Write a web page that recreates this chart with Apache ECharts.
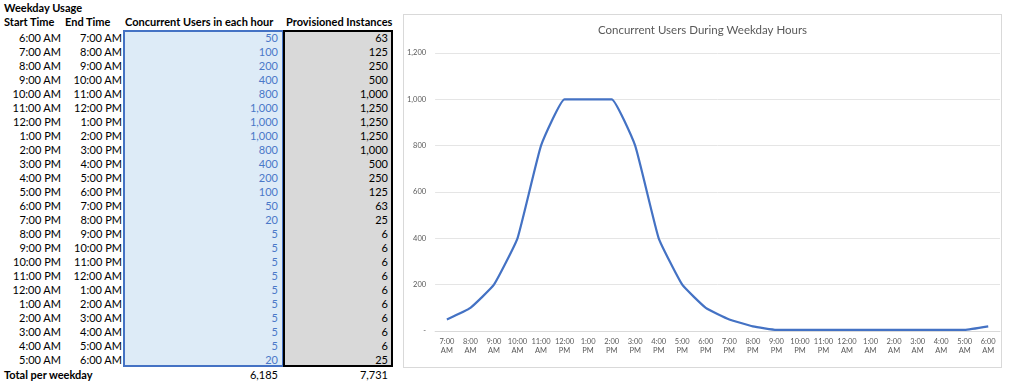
<!DOCTYPE html>
<html>
<head>
<meta charset="utf-8">
<script src="https://cdn.jsdelivr.net/npm/echarts@6/dist/echarts.min.js"></script>
<style>
  html, body { margin: 0; padding: 0; background: #fff; width: 1010px; height: 386px; overflow: hidden; }
  body { position: relative; font-family: Lato, "Liberation Sans", sans-serif; font-size: 11px; color: #000; }
  .t { position: absolute; white-space: nowrap; height: 14px; line-height: 14px; }
  .b { font-weight: bold; }
  .r { text-align: right; }
  #chart { position: absolute; left: 403px; top: 14px; width: 599px; height: 354px; box-sizing: border-box; border: 1px solid #d9d9d9; }
</style>
</head>
<body>
<div id="table"></div>
<div id="chart"></div>
<script>
const startTimes = ["6:00 AM","7:00 AM","8:00 AM","9:00 AM","10:00 AM","11:00 AM","12:00 PM","1:00 PM","2:00 PM","3:00 PM","4:00 PM","5:00 PM","6:00 PM","7:00 PM","8:00 PM","9:00 PM","10:00 PM","11:00 PM","12:00 AM","1:00 AM","2:00 AM","3:00 AM","4:00 AM","5:00 AM"];
const endTimes = ["7:00 AM","8:00 AM","9:00 AM","10:00 AM","11:00 AM","12:00 PM","1:00 PM","2:00 PM","3:00 PM","4:00 PM","5:00 PM","6:00 PM","7:00 PM","8:00 PM","9:00 PM","10:00 PM","11:00 PM","12:00 AM","1:00 AM","2:00 AM","3:00 AM","4:00 AM","5:00 AM","6:00 AM"];
const users = [50,100,200,400,800,1000,1000,1000,800,400,200,100,50,20,5,5,5,5,5,5,5,5,5,20];
const instances = [63,125,250,500,1000,1250,1250,1250,1000,500,250,125,63,25,6,6,6,6,6,6,6,6,6,25];
const totals = [6185, 7731];
const headers = ["Start Time","End Time","Concurrent Users in each hour","Provisioned Instances"];
const tableTitle = "Weekday Usage";
const totalLabel = "Total per weekday";
const chartTitle = "Concurrent Users During Weekday Hours";
const yTicks = [0, 200, 400, 600, 800, 1000, 1200];

const fmt = v => v.toLocaleString("en-US");
const tbl = document.getElementById("table");
function add(text, style, cls) {
  const d = document.createElement("div");
  d.className = "t " + (cls || "");
  d.textContent = text;
  Object.assign(d.style, style);
  tbl.appendChild(d);
  return d;
}
const rowH = 14, top0 = 30;
const blueBox = document.createElement("div");
Object.assign(blueBox.style, {position:"absolute", left:"123px", top:top0+"px", width:"161px", height:(rowH*users.length+1)+"px", background:"#ddebf7", border:"2px solid #4472c4", boxSizing:"border-box"});
tbl.appendChild(blueBox);
const greyBox = document.createElement("div");
Object.assign(greyBox.style, {position:"absolute", left:"283px", top:top0+"px", width:"110px", height:(rowH*users.length+1)+"px", background:"#d9d9d9", border:"2px solid #000", boxSizing:"border-box"});
tbl.appendChild(greyBox);

add(tableTitle, {left:"4px", top:"1px"}, "b");
add(headers[0], {left:"4px", top:"15px"}, "b");
add(headers[1], {left:"65px", top:"15px"}, "b");
add(headers[2], {left:"125px", top:"15px"}, "b");
add(headers[3], {left:"286px", top:"15px"}, "b");
for (let i = 0; i < users.length; i++) {
  const y = top0 + 1 + i * rowH;
  add(startTimes[i], {left:"0px", width:"61px", top:y+"px"}, "r");
  add(endTimes[i], {left:"62px", width:"60px", top:y+"px"}, "r");
  add(fmt(users[i]), {left:"125px", width:"153px", top:y+"px", color:"#4a78c8"}, "r");
  add(fmt(instances[i]), {left:"286px", width:"102px", top:y+"px"}, "r");
}
const ty = top0 + 2 + users.length * rowH;
add(totalLabel, {left:"4px", top:ty+"px"}, "b");
add(fmt(totals[0]), {left:"125px", width:"153px", top:ty+"px"}, "r");
add(fmt(totals[1]), {left:"286px", width:"102px", top:ty+"px"}, "r");

const chart = echarts.init(document.getElementById("chart"));
chart.setOption({
  animation: false,
  title: {
    text: chartTitle, left: "center", top: 4,
    textStyle: { fontFamily: "Lato, sans-serif", fontSize: 11.5, fontWeight: "normal", color: "#595959" }
  },
  grid: { left: 28, right: 1, top: 38, bottom: 36 },
  xAxis: {
    type: "category",
    data: endTimes,
    boundaryGap: true,
    axisLine: { lineStyle: { color: "#d9d9d9" } },
    axisTick: { show: false },
    axisLabel: {
      interval: 0, color: "#595959", fontSize: 7.5, lineHeight: 9, margin: 6,
      fontFamily: "Lato, sans-serif",
      formatter: v => v.replace(" ", "\n")
    }
  },
  yAxis: {
    type: "value", min: yTicks[0], max: yTicks[yTicks.length - 1], interval: 200,
    axisLine: { show: false }, axisTick: { show: false },
    splitLine: { lineStyle: { color: "#e5e5e5" } },
    axisLabel: {
      color: "#595959", fontSize: 7.5, margin: 9, fontFamily: "Lato, sans-serif",
      formatter: v => v === 0 ? "-" : fmt(v)
    }
  },
  series: [{
    type: "line", data: users, smooth: 0.12, showSymbol: false,
    lineStyle: { color: "#4472c4", width: 2.2 }
  }]
});
</script>
</body>
</html>
